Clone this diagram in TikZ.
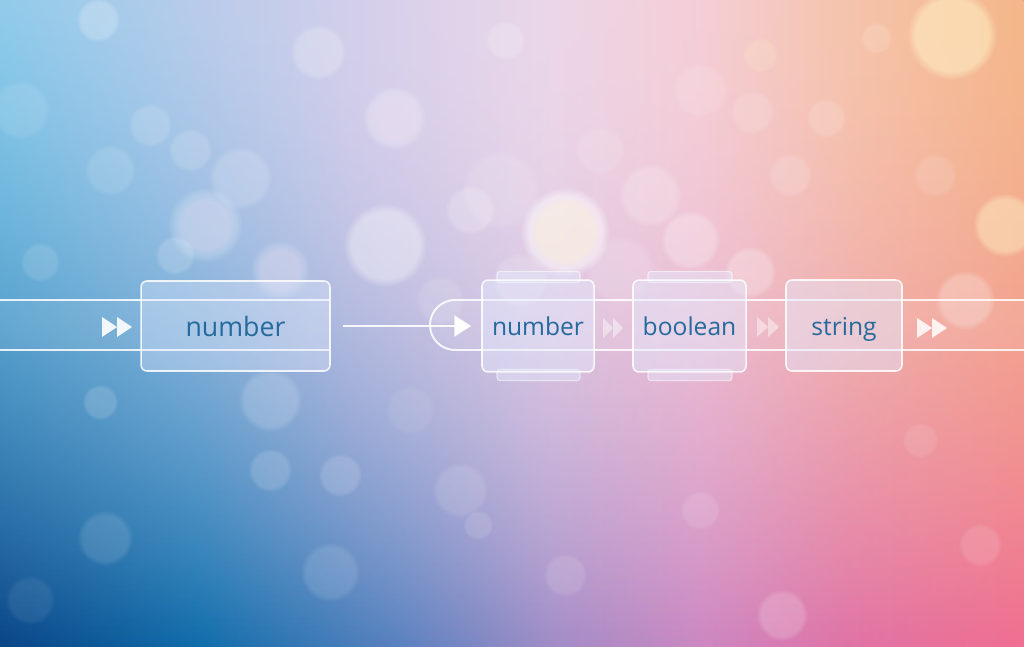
\documentclass[tikz,border=0pt]{standalone}
\usepackage{fontspec}
\setmainfont{Open Sans}
\usetikzlibrary{fadings,arrows.meta}

\definecolor{txtblue}{RGB}{36,106,156}
\definecolor{boxfill}{RGB}{228,234,255}
\definecolor{cream}{RGB}{255,242,200}
\definecolor{blush}{RGB}{255,225,245}

\pgfdeclarehorizontalshading{toprow}{100bp}{rgb(0bp)=(0.57,0.80,0.92); rgb(25bp)=(0.57,0.80,0.92); rgb(34.8bp)=(0.73,0.80,0.92); rgb(44.5bp)=(0.85,0.82,0.92); rgb(51.9bp)=(0.92,0.84,0.91); rgb(59.2bp)=(0.96,0.81,0.84); rgb(66.5bp)=(0.965,0.77,0.67); rgb(75bp)=(0.96,0.72,0.54); rgb(100bp)=(0.96,0.72,0.54)}
\pgfdeclarehorizontalshading{midrow}{100bp}{rgb(0bp)=(0.18,0.66,0.85); rgb(25bp)=(0.18,0.66,0.85); rgb(32.3bp)=(0.45,0.74,0.90); rgb(42.1bp)=(0.88,0.80,0.93); rgb(50.4bp)=(0.97,0.88,0.95); rgb(59.2bp)=(0.97,0.80,0.87); rgb(69bp)=(0.96,0.72,0.68); rgb(75bp)=(0.96,0.68,0.60); rgb(100bp)=(0.96,0.68,0.60)}
\pgfdeclarehorizontalshading{botrow}{100bp}{rgb(0bp)=(0.04,0.27,0.53); rgb(25bp)=(0.04,0.27,0.53); rgb(34.8bp)=(0.06,0.43,0.67); rgb(44.5bp)=(0.35,0.51,0.75); rgb(51.9bp)=(0.63,0.55,0.78); rgb(59.2bp)=(0.80,0.53,0.76); rgb(66.5bp)=(0.88,0.45,0.65); rgb(75bp)=(0.94,0.43,0.57); rgb(100bp)=(0.94,0.43,0.57)}

\tikzfading[name=fadebot, top color=transparent!0, middle color=transparent!0, bottom color=transparent!100]
\tikzfading[name=fadetop, top color=transparent!0, middle color=transparent!100, bottom color=transparent!100]
\tikzfading[name=vstreak, top color=transparent!100, middle color=transparent!0, bottom color=transparent!100]

\tikzset{
  bandline/.style={draw=white, draw opacity=0.85, line width=1.4pt},
  bandfill/.style={fill=white, fill opacity=0.08},
  box/.style={rectangle, rounded corners=4.3pt, draw=white, draw opacity=0.85, line width=1.1pt,
    fill=boxfill, fill opacity=0.45, text opacity=1, text=txtblue, inner sep=0pt,
    text height=15pt, text depth=1pt, font=\fontsize{17.5}{20}\selectfont},
  tab/.style={rectangle, rounded corners=2pt, draw=white, draw opacity=0.55, line width=0.8pt,
    fill=boxfill, fill opacity=0.45, inner sep=0pt},
  conn/.style={draw=white, draw opacity=0.9, line width=1.4pt, -{Triangle[length=12pt,width=15pt]}},
  bokeh/.style={fill=white, path fading=circle with fuzzy edge 20 percent},
  streak/.style={fill=white, path fading=vstreak},
}

\newcommand\dtri[4]{%
  \fill[white, opacity=#4] (#1,#2-10) -- (#1+#3,#2) -- (#1,#2+10) -- cycle;
  \fill[white, opacity=#4] (#1+#3,#2-10) -- (#1+2*#3,#2) -- (#1+#3,#2+10) -- cycle;}

\begin{document}
\begin{tikzpicture}[x=0.25mm, y=-0.25mm]
\useasboundingbox (0,0) rectangle (1024,647);
\clip (0,0) rectangle (1024,647);

% background gradient
\shade[shading=botrow] (0,0) rectangle (1024,647);
\shade[shading=midrow, path fading=fadebot] (0,0) rectangle (1024,647);
\shade[shading=toprow, path fading=fadetop] (0,0) rectangle (1024,647);

% vertical light streaks
\foreach \xa/\ya/\xb/\yb/\o in {130/190/152/450/0.12, 290/170/315/450/0.1, 420/200/445/520/0.12,
  515/360/555/480/0.1, 590/360/620/470/0.1, 690/380/720/480/0.08, 840/370/870/540/0.12,
  240/380/262/520/0.1, 935/200/960/420/0.08, 560/120/590/300/0.08, 20/200/40/420/0.08}
  \fill[streak, opacity=\o] (\xa,\ya) rectangle (\xb,\yb);

% bokeh circles
\foreach \x/\y/\r/\o in {98/20/22/0.22, 318/52/28/0.22, 394/118/32/0.24, 505/40/20/0.18,
  700/90/28/0.12, 752/112/22/0.14, 826/118/20/0.15, 876/38/16/0.14, 150/125/22/0.15,
  190/150/22/0.15, 110/170/26/0.12, 20/110/30/0.1, 240/178/32/0.17, 205/225/38/0.2,
  175/255/20/0.17, 40/262/20/0.12, 280/270/30/0.17, 385/245/42/0.36, 565/232/45/0.5,
  470/210/25/0.2, 650/195/32/0.2, 690/240/30/0.25, 750/272/26/0.25, 790/175/22/0.15,
  600/150/25/0.12, 935/175/22/0.12, 965/300/30/0.25, 100/402/18/0.15, 270/400/32/0.17,
  270/470/22/0.15, 340/475/22/0.15, 105/538/28/0.12, 330/572/30/0.12, 460/490/28/0.12,
  478/525/15/0.12, 565/575/22/0.12, 700/510/20/0.12, 782/615/26/0.18, 980/545/22/0.12,
  920/440/18/0.1, 410/410/25/0.08, 30/600/25/0.07, 520/280/28/0.16, 440/300/25/0.12,
  500/190/40/0.12, 620/270/35/0.14}
  \fill[bokeh, opacity=\o] (\x,\y) circle (\r);
\foreach \x/\y/\r/\o in {952/35/45/0.55, 1005/225/32/0.45, 565/232/35/0.3, 760/55/18/0.18}
  \fill[bokeh, fill=cream, opacity=\o] (\x,\y) circle (\r);
\foreach \x/\y/\r/\o in {205/225/30/0.18, 280/270/24/0.18, 394/118/26/0.12}
  \fill[bokeh, fill=blush, opacity=\o] (\x,\y) circle (\r);

% band 1
\fill[bandfill] (0,300) rectangle (330,350);
\draw[bandline] (0,300) -- (330,300);
\draw[bandline] (0,350) -- (330,350);

% band 2
\path[bandfill] (1040,300) -- (455,300) arc (-90:-270:25) -- (1040,350) -- cycle;
\draw[bandline] (1040,300) -- (455,300) arc (-90:-270:25) -- (1040,350);

% tab strips behind boxes
\node[tab, minimum width=59pt, minimum height=8pt] (tab2t) at (538.5,277) {};
\node[tab, minimum width=59pt, minimum height=8pt] (tab2b) at (538.5,375) {};
\node[tab, minimum width=59.7pt, minimum height=8pt] (tab3t) at (690,277) {};
\node[tab, minimum width=59.7pt, minimum height=8pt] (tab3b) at (690,375) {};

% boxes
\node[box, minimum width=134.4pt, minimum height=64pt, fill opacity=0.35, text height=16pt, text depth=1pt, font=\fontsize{19}{22}\selectfont] (box1) at (235.5,326) {number};
\node[box, minimum width=79.7pt, minimum height=65.4pt] (box2) at (538,326) {number};
\node[box, minimum width=80.4pt, minimum height=65.4pt] (box3) at (689.5,326) {boolean};
\node[box, minimum width=82.5pt, minimum height=64.7pt] (box4) at (844,325.5) {string};

% connector
\draw[conn, shorten <=8.5pt, shorten >=7.1pt] (box1) -- (box2);

% double triangles
\dtri{102}{327}{15}{0.9}
\dtri{603}{328}{10}{0.45}
\dtri{757}{327}{11}{0.45}
\dtri{917}{328}{15}{0.85}
\end{tikzpicture}
\end{document}
